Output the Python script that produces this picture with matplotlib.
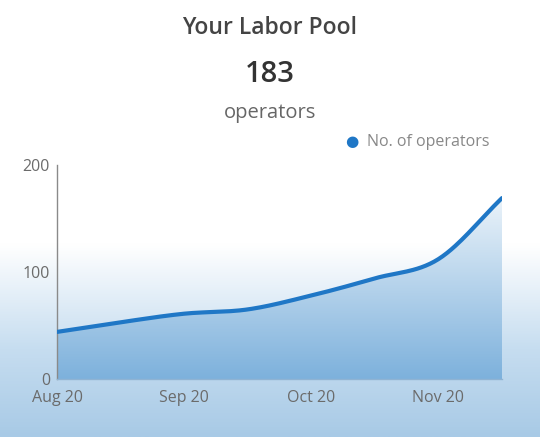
import numpy as np
import matplotlib
matplotlib.use("Agg")
import matplotlib.pyplot as plt
from matplotlib.colors import LinearSegmentedColormap

# half-month samples, Aug 20 .. Dec 5
operators = [44, 53, 61, 65, 78, 94, 112, 169]
tick_pos = [0, 2, 4, 6]
tick_labels = ["Aug 20", "Sep 20", "Oct 20", "Nov 20"]
y_ticks = [0, 100, 200]
headline = "183"

line_col = "#1f77c6"


def smooth(y, n=30):
    # catmull-rom through the points, just for drawing
    y = np.asarray(y, float)
    p = np.concatenate([[2 * y[0] - y[1]], y, [2 * y[-1] - y[-2]]])
    xs, ys = [], []
    for i in range(len(y) - 1):
        t = np.linspace(0, 1, n, endpoint=False)
        p0, p1, p2, p3 = p[i], p[i + 1], p[i + 2], p[i + 3]
        v = 0.5 * ((2 * p1) + (-p0 + p2) * t + (2 * p0 - 5 * p1 + 4 * p2 - p3) * t ** 2
                   + (-p0 + 3 * p1 - 3 * p2 + p3) * t ** 3)
        xs.append(i + t)
        ys.append(v)
    xs.append([len(y) - 1])
    ys.append([y[-1]])
    return np.concatenate(xs), np.concatenate(ys)


fig = plt.figure(figsize=(5.4, 4.37), dpi=100)
plt.rcParams['font.family'] = ['Open Sans', 'DejaVu Sans']

# page background: white fading into light blue
bg = fig.add_axes([0, 0, 1, 1], zorder=0)
bg_cmap = LinearSegmentedColormap.from_list(
    "bg", [(0, "#a8cae6"), (0.2, "#c6ddf0"), (0.44, "#ffffff"), (1, "#ffffff")])
grad = np.linspace(0, 1, 256).reshape(-1, 1)
bg.imshow(grad, aspect="auto", cmap=bg_cmap, extent=[0, 1, 0, 1], origin="lower")
bg.axis("off")

ax = fig.add_axes([0.1056, 0.1327, 0.824, 0.49], zorder=1)
ax.patch.set_alpha(0)

xs, ys = smooth(operators)
ax.plot(xs, ys, color=line_col, lw=3, solid_capstyle="round", zorder=3)

# gradient fill under the line: blue at the bottom, white at the top
fill_cmap = LinearSegmentedColormap.from_list("fill", ["#7db1dc", "#ffffff"])
img = ax.imshow(grad, aspect="auto", cmap=fill_cmap,
                extent=[0, len(operators) - 1, 0, 200], origin="lower", zorder=2)
poly = ax.fill_between(xs, 0, ys, color="none")
img.set_clip_path(poly.get_paths()[0], transform=ax.transData)
ax.set_ylim(0, 200)
ax.set_xlim(0, len(operators) - 1)

ax.set_xticks(tick_pos)
ax.set_xticklabels(tick_labels)
ax.set_yticks(y_ticks)
ax.tick_params(length=0, labelsize=11.5, colors="#6b6b6b")
ax.tick_params(axis="x", pad=8)
ax.tick_params(axis="y", pad=5)
for s in ["top", "right"]:
    ax.spines[s].set_visible(False)
ax.spines["left"].set_color("#8a8a8a")
ax.spines["left"].set_linewidth(1)
ax.spines["bottom"].set_color("#8fb3d3")
ax.spines["bottom"].set_linewidth(1)

fig.text(0.5, 1 - 28 / 437, "Your Labor Pool", ha="center", va="center",
         fontsize=16.5, color="#444444", fontweight="semibold")
fig.text(0.5, 1 - 75 / 437, headline, ha="center", va="center",
         fontsize=21, color="#333333", fontweight="semibold")
fig.text(0.5, 1 - 113 / 437, "operators", ha="center", va="center",
         fontsize=14.5, color="#666666")

fig.text(352 / 540, 1 - 142 / 437, "\u25CF", ha="center", va="center",
         fontsize=11, color=line_col, family="DejaVu Sans")
fig.text(367 / 540, 1 - 142 / 437, "No. of operators", ha="left", va="center",
         fontsize=11.5, color="#888888")

fig.savefig("out.png", dpi=100)
